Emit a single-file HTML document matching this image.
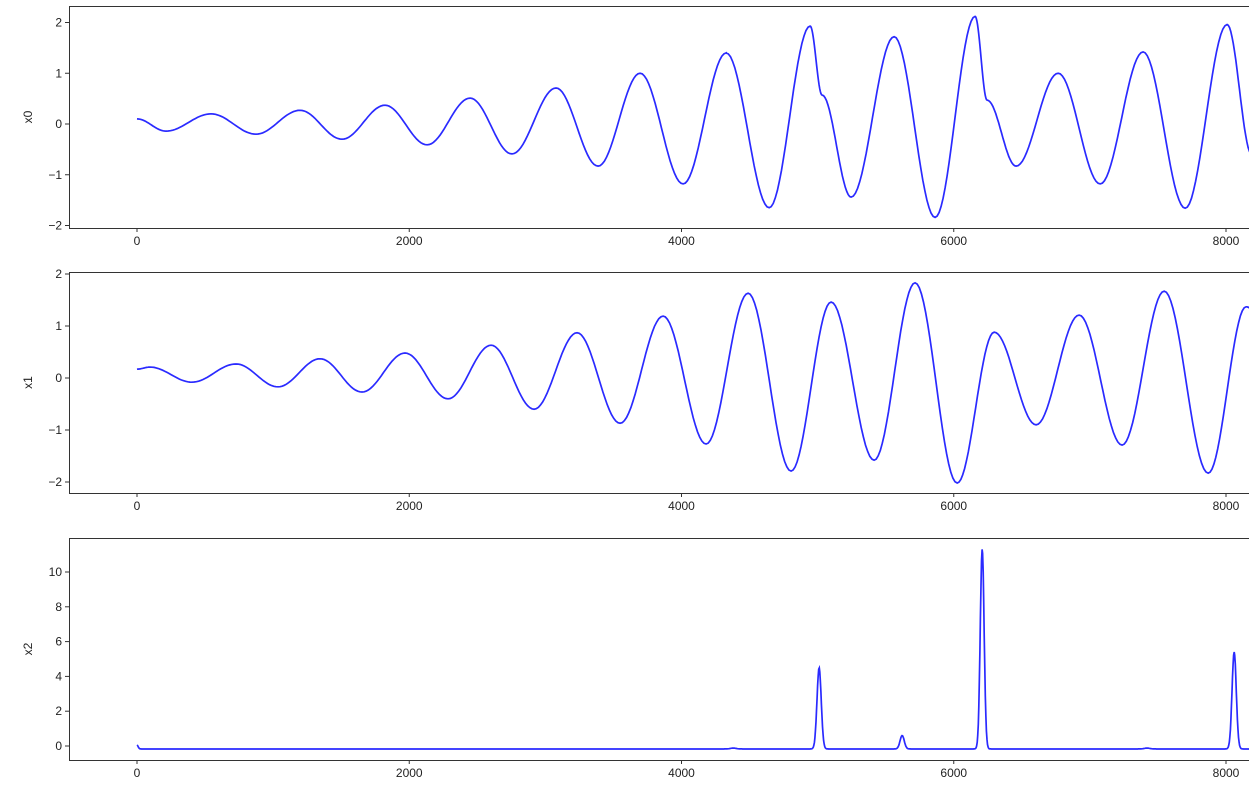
<!DOCTYPE html>
<html><head><meta charset="utf-8"><style>
body{margin:0;background:#fff;width:1249px;height:794px;overflow:hidden;font-family:"Liberation Sans",sans-serif}
svg text{font-family:"Liberation Sans",sans-serif;font-size:12px;fill:#222}
</style></head><body>
<svg id="fig" width="1249" height="794" viewBox="0 0 1249 794"></svg>
<script>
// x0 extrema (time, value)
const x0T=[0,213,544,874,1198,1506,1822,2131,2447,2755,3078,3387,3696,4012,4328,4644,4945,5033,5246,5562,5863,6157,6245,6458,6767,7076,7391,7700,8008,8190];
const x0V=[0.1,-0.14,0.2,-0.2,0.27,-0.3,0.37,-0.41,0.51,-0.59,0.71,-0.83,1.0,-1.18,1.40,-1.65,1.93,0.57,-1.44,1.72,-1.84,2.12,0.47,-0.83,1.0,-1.18,1.42,-1.66,1.96,-0.6];
const x1T=[0,95,404,727,1036,1345,1653,1969,2285,2601,2917,3233,3549,3865,4181,4489,4805,5099,5415,5716,6025,6297,6605,6921,7237,7546,7869,8148,8250];
const x1V=[0.17,0.21,-0.08,0.27,-0.17,0.37,-0.27,0.48,-0.40,0.63,-0.6,0.87,-0.87,1.19,-1.27,1.63,-1.79,1.46,-1.58,1.83,-2.02,0.88,-0.9,1.21,-1.29,1.67,-1.83,1.37,1.2];
const x2Base=-0.17;
const spikeT=[0,4380,5011,5621,6209,7420,8060];
const spikeH=[0.22,0.05,4.67,0.77,11.5,0.05,5.57];
const spikeW=[12,30,22,22,20,30,22];
const xTicks=[0,2000,4000,6000,8000];
const panels=[
 {name:'x0',top:6,bot:228,y0:124,k:50.75,ticks:[-2,-1,0,1,2]},
 {name:'x1',top:272,bot:493,y0:378,k:52,ticks:[-2,-1,0,1,2]},
 {name:'x2',top:538,bot:760,y0:746,k:17.4,ticks:[0,2,4,6,8,10]}];
const svg=document.getElementById('fig');const NS='http://www.w3.org/2000/svg';
const sx=t=>137+t*0.136125;
function mk(tag,at,parent){const e=document.createElementNS(NS,tag);for(const a in at)e.setAttribute(a,at[a]);(parent||svg).appendChild(e);return e;}
panels.forEach((p,i)=>{
 const g=mk('g',{});
 
 
 const sy=v=>p.y0-v*p.k;
 let pts=[];
 if(i<2){const T=i==0?x0T:x1T,V=i==0?x0V:x1V;
  for(let j=0;j<T.length-1;j++){for(let s=0;s<=20;s++){const f=s/20,w=(1-Math.cos(Math.PI*f))/2;
   pts.push([sx(T[j]+(T[j+1]-T[j])*f),sy(V[j]+(V[j+1]-V[j])*w)]);}}
 }else{for(let t=0;t<=8300;t+=4){let v=x2Base;for(let j=0;j<spikeT.length;j++){const d=(t-spikeT[j])/spikeW[j];v+=spikeH[j]*Math.exp(-d*d);}pts.push([sx(t),sy(v)]);}}
 const cp=mk('clipPath',{id:'c'+i},g);mk('rect',{x:69,y:p.top,width:1300,height:p.bot-p.top},cp);
 const line=mk('path',{d:'M'+pts.map(q=>q[0].toFixed(1)+','+q[1].toFixed(1)).join('L'),fill:'none',stroke:'#2a2aff','stroke-width':1.7,'clip-path':'url(#c'+i+')'},g);
 
 
 const fr=mk('rect',{x:69.5,y:p.top+0.5,width:1300,height:p.bot-p.top,fill:'none',stroke:'#333','stroke-width':1},g);
 
 
 xTicks.forEach(t=>{mk('line',{x1:sx(t),x2:sx(t),y1:p.bot,y2:p.bot+4,stroke:'#333'},g);
  const tx=mk('text',{x:sx(t),y:p.bot+17,'text-anchor':'middle'},g);tx.textContent=t;
  
  });
 p.ticks.forEach(v=>{mk('line',{x1:65,x2:69,y1:sy(v),y2:sy(v),stroke:'#333'},g);
  const tx=mk('text',{x:62,y:sy(v)+4,'text-anchor':'end'},g);tx.textContent=(v<0?'\u2212'+(-v):v);
  
  });
 const yl=mk('text',{x:32,y:(p.top+p.bot)/2,'text-anchor':'middle',transform:'rotate(-90 32 '+(p.top+p.bot)/2+')'},g);
 yl.textContent=p.name;
 
 
});
</script>
</body></html>
